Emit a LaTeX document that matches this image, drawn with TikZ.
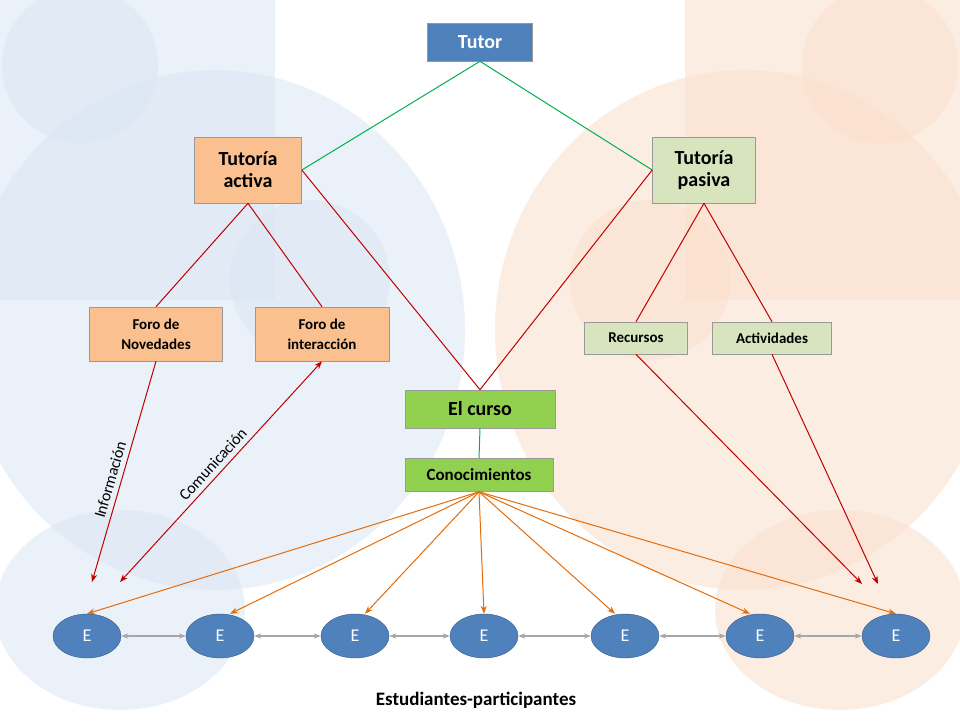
\documentclass[tikz,border=0pt]{standalone}
\usepackage{fontspec}
\setmainfont{Carlito}
\usetikzlibrary{shapes.geometric,arrows.meta}
\definecolor{bgb}{HTML}{DCE6F4}
\definecolor{bgo}{HTML}{FBE0CC}
\definecolor{tblue}{HTML}{4F81BD}
\definecolor{torange}{HTML}{FAC090}
\definecolor{tgreenl}{HTML}{D7E4BD}
\definecolor{tgreen}{HTML}{92D050}
\definecolor{lred}{HTML}{C00000}
\definecolor{lgreen}{HTML}{00B050}
\definecolor{lorange}{HTML}{E46C0A}
\begin{document}
\begin{tikzpicture}[x=1pt,y=-1pt,
 box/.style={draw=black!40,line width=0.6pt,minimum height=#1,align=center,inner sep=1pt},
 fA/.style={font=\fontsize{20}{22}\selectfont\bfseries},
 fB/.style={font=\fontsize{15}{20}\selectfont\bfseries},
 est/.style={ellipse,fill=tblue,draw=tblue!70!black,minimum width=68pt,minimum height=44pt,text=white,font=\fontsize{18}{20}\selectfont},
 rl/.style={lred,line width=1pt},
 ra/.style={rl,-{Stealth[length=8pt]}},
 oa/.style={lorange,line width=1pt,-{Stealth[length=8pt]}},
 ga/.style={gray!70,line width=1.6pt,{Stealth[length=7pt]}-{Stealth[length=7pt]}},
 lbl/.style={sloped,above,black,inner sep=5pt,font=\fontsize{16}{18}\selectfont}]
\useasboundingbox (0,0) rectangle (960,720);
\fill[white] (0,0) rectangle (960,720);
% background shapes
\begin{scope}[fill opacity=0.55]
\fill[bgb] (0,0) rectangle (275,300);
\fill[bgb] (215,330) ellipse (250 and 260);
\fill[bgb] (80,65) circle (78);
\fill[bgb] (310,280) circle (80);
\fill[bgb] (120,610) ellipse (125 and 100);
\fill[bgo] (685,0) rectangle (960,300);
\fill[bgo] (745,330) ellipse (250 and 260);
\fill[bgo] (880,65) circle (78);
\fill[bgo] (650,280) circle (80);
\fill[bgo] (840,610) ellipse (125 and 100);
\end{scope}
% nodes
\node[box=38pt,minimum width=105pt,fill=tblue,text=white,fA] (tutor) at (480,42) {Tutor};
\node[box=66pt,minimum width=107pt,fill=torange,fA] (ta) at (248,170) {Tutoría\\activa};
\node[box=66pt,minimum width=103pt,fill=tgreenl,fA] (tp) at (704,170) {Tutoría\\pasiva};
\node[box=54pt,minimum width=133pt,fill=torange,fB] (fn) at (156,334) {Foro de\\Novedades};
\node[box=54pt,minimum width=134pt,fill=torange,fB] (fi) at (322,334) {Foro de\\interacción};
\node[box=32pt,minimum width=103pt,fill=tgreenl,fB] (rec) at (636,338) {Recursos};
\node[box=32pt,minimum width=119pt,fill=tgreenl,fB] (act) at (772,338) {Actividades};
\node[box=38pt,minimum width=150pt,fill=tgreen,fA] (cur) at (480,409) {El curso};
\node[box=33pt,minimum width=148pt,fill=tgreen,font=\fontsize{17}{20}\selectfont\bfseries] (con) at (479,475) {Conocimientos};
\foreach \i/\x in {1/87,2/220,3/355,4/484,5/625,6/760,7/896}
  \node[est] (e\i) at (\x,636) {E};
\node[font=\fontsize{19}{22}\selectfont\bfseries] (lab) at (476,700) {Estudiantes-participantes};
\coordinate (p1) at (92,582);
\coordinate (p2) at (120,582);
\coordinate (p3) at (862,584);
\coordinate (p4) at (878,584);
% connectors
\draw[lgreen,line width=1pt] (ta.east) -- (tutor.south) -- (tp.west);
\draw[rl] (ta.south) -- (fn.north);
\draw[rl] (ta.south) -- (fi.north);
\draw[rl] (ta.east) -- (cur.north) -- (tp.west);
\draw[rl] (tp.south) -- (rec.north);
\draw[rl] (tp.south) -- (act.north);
\draw[ra] (rec.south) -- (p3);
\draw[ra] (act.south) -- (p4);
\draw[ra] (fn.south) -- node[lbl,pos=0.55]{Información} (p1);
\draw[rl,{Stealth[length=8pt]}-{Stealth[length=8pt]}] (p2) -- node[lbl,pos=0.5]{Comunicación} (fi.south);
\draw[lgreen,line width=1pt] (cur.south) -- (con.north);
\foreach \i/\d in {1/0,2/10,3/10,4/0,5/-10,6/-10,7/0}
  \draw[oa] (con.south) -- ([xshift=\d pt]e\i.north);
\foreach \a/\b in {1/2,2/3,3/4,4/5,5/6,6/7}
  \draw[ga] (e\a.east) -- (e\b.west);
\end{tikzpicture}
\end{document}
